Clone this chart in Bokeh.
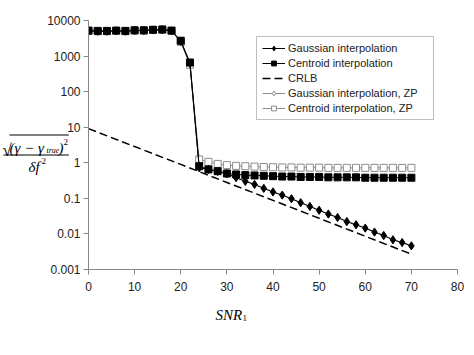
from bokeh.plotting import figure
from bokeh.models import (Label, Legend, LegendItem, FixedTicker, Range1d)
from bokeh.embed import file_html
from bokeh.resources import INLINE

# ---------------- data ----------------
snr = list(range(0, 71, 2))

gaussian = [5100, 5000, 5000, 5100, 5000, 5200, 5200, 5400, 5500, 5100, 2600, 620,
            0.72, 0.65, 0.57, 0.49, 0.38, 0.30, 0.245, 0.19, 0.15, 0.123, 0.097, 0.075,
            0.059, 0.046, 0.036, 0.029, 0.022, 0.018, 0.0145, 0.0112, 0.0090, 0.0068,
            0.0057, 0.0046]

centroid = [5200, 5100, 5100, 5200, 5100, 5300, 5300, 5500, 5600, 5200, 2700, 660,
            0.80, 0.65, 0.58, 0.50, 0.47, 0.45, 0.44, 0.43, 0.42, 0.41, 0.41, 0.40,
            0.40, 0.40, 0.39, 0.39, 0.39, 0.39, 0.38, 0.38, 0.38, 0.38, 0.38, 0.38]

gaussian_zp = [5000, 5000, 5000, 5100, 5000, 5200, 5200, 5400, 5500, 5100, 2500, 560,
               0.75, 0.66, 0.58, 0.50, 0.39, 0.31, 0.25, 0.195, 0.155, 0.125, 0.099,
               0.077, 0.060, 0.047, 0.037, 0.029, 0.023, 0.0185, 0.0148, 0.0115, 0.0092,
               0.0070, 0.0058, 0.0047]

centroid_zp = [5100, 5000, 5000, 5100, 5000, 5200, 5200, 5400, 5500, 5100, 2500, 570,
               1.24, 1.06, 0.93, 0.86, 0.82, 0.80, 0.78, 0.76, 0.75, 0.74, 0.74, 0.73,
               0.73, 0.73, 0.72, 0.72, 0.72, 0.72, 0.72, 0.72, 0.72, 0.72, 0.72, 0.72]

crlb_x = [0, 10, 20, 30, 40, 50, 60, 70]
crlb = [9.1, 2.86, 0.90, 0.28, 0.088, 0.0275, 0.0086, 0.0027]

x_ticks = [0, 10, 20, 30, 40, 50, 60, 70, 80]
y_ticks = [0.001, 0.01, 0.1, 1, 10, 100, 1000, 10000]
y_tick_labels = ["0.001", "0.01", "0.1", "1", "10", "100", "1000", "10000"]

legend_labels = ["Gaussian interpolation", "Centroid interpolation", "CRLB",
                 "Gaussian interpolation, ZP", "Centroid interpolation, ZP"]

# ---------------- figure ----------------
FONT = "Liberation Sans"
SERIF = "Liberation Serif"
W, H = 474, 355

p = figure(width=W, height=H, y_axis_type="log",
           x_range=Range1d(0, 80), y_range=Range1d(0.001, 10000),
           output_backend="svg", toolbar_location=None,
           min_border_left=88, min_border_right=17, min_border_top=20,
           min_border_bottom=86)
p.outline_line_color = None
p.xgrid.visible = False
p.ygrid.visible = False
p.background_fill_color = "white"
p.border_fill_color = "white"

for ax in (p.xaxis[0], p.yaxis[0]):
    ax.axis_line_color = "#868686"
    ax.axis_line_width = 1
    ax.major_tick_line_color = "#868686"
    ax.major_tick_out = 5
    ax.major_tick_in = 0
    ax.minor_tick_line_color = None
    ax.major_label_text_font = FONT
    ax.major_label_text_font_size = "12px"
    ax.major_label_text_color = "#222222"

p.xaxis.ticker = FixedTicker(ticks=x_ticks)
p.xaxis.major_label_standoff = 7
p.yaxis.ticker = FixedTicker(ticks=y_ticks)
p.yaxis.major_label_overrides = {t: l for t, l in zip(y_ticks, y_tick_labels)}
p.yaxis.major_label_standoff = 3

GRAY = "#8c8c8c"

# ZP series (behind)
l_gzp = p.line(snr, gaussian_zp, line_color=GRAY, line_width=1)
m_gzp = p.scatter(snr, gaussian_zp, marker="diamond", size=8, fill_color="white",
                  line_color=GRAY, line_width=1)
l_czp = p.line(snr, centroid_zp, line_color=GRAY, line_width=1)
m_czp = p.scatter(snr, centroid_zp, marker="square", size=7, fill_color="white",
                  line_color=GRAY, line_width=1)

# CRLB
l_crlb = p.line(crlb_x, crlb, line_color="black", line_width=1.5, line_dash="8 4")

# main series
l_g = p.line(snr, gaussian, line_color="black", line_width=1)
m_g = p.scatter(snr, gaussian, marker="diamond", size=8, fill_color="black",
                line_color="black")
l_c = p.line(snr, centroid, line_color="black", line_width=1)
m_c = p.scatter(snr, centroid, marker="square", size=7, fill_color="black",
                line_color="black")

legend = Legend(items=[
    LegendItem(label=legend_labels[0], renderers=[l_g, m_g]),
    LegendItem(label=legend_labels[1], renderers=[l_c, m_c]),
    LegendItem(label=legend_labels[2], renderers=[l_crlb]),
    LegendItem(label=legend_labels[3], renderers=[l_gzp, m_gzp]),
    LegendItem(label=legend_labels[4], renderers=[l_czp, m_czp]),
], location=(168, 149))
legend.label_text_font = FONT
legend.label_text_font_size = "11px"
legend.label_text_color = "#222222"
legend.glyph_width = 23
legend.glyph_height = 12
legend.label_height = 12
legend.label_width = 140
legend.spacing = 3
legend.padding = 5
legend.margin = 0
legend.label_standoff = 3
legend.border_line_color = "#808080"
legend.border_line_width = 1
legend.background_fill_alpha = 1
p.add_layout(legend, "center")

# ---------------- axis titles (canvas px, y from the top) ----------------
# side panels hold them only so that they are not clipped to the frame;
# each is put in a panel whose free border space can take its size.


def lab(text, X, Y, size, panel, italic=True, font=SERIF):
    p.add_layout(Label(x=X, y=Y, x_units="canvas", y_units="canvas",
                       text=text, text_font=font, text_font_size=size,
                       text_font_style="italic" if italic else "normal",
                       text_align="left", text_baseline="alphabetic",
                       text_color="black"), panel)


def hbar(x0, x1, Y, panel):
    p.add_layout(Label(x=x0, y=Y, x_units="canvas", y_units="canvas", text=" ",
                       text_font_size="1px", text_align="left", text_baseline="top",
                       background_fill_color="black", background_fill_alpha=1,
                       padding=dict(left=0, right=int(x1 - x0), top=0, bottom=0)),
                 panel)


# y-axis title: sqrt( (γ-γ_true)^2 ) / δf^2
lab("\u221a", 2, 150, "17px", "above", italic=False)
hbar(9, 68, 134, "below")
lab("(\u03b3 \u2212 \u03b3", 9, 147, "15px", "left")
lab("true", 46, 150, "8px", "below")
lab(")", 58, 147, "15px", "right")
lab("2", 63, 141, "9px", "right", italic=False)
hbar(3, 68, 154, "below")
lab("\u03b4f", 28, 166, "15px", "below")
lab("2", 41, 160, "9px", "right", italic=False)

# x-axis title: SNR_1
lab("SNR", 215, 314, "15px", "below")
lab("1", 242, 317, "9px", "below", italic=False)

open("out.html", "w").write(file_html(p, INLINE))
